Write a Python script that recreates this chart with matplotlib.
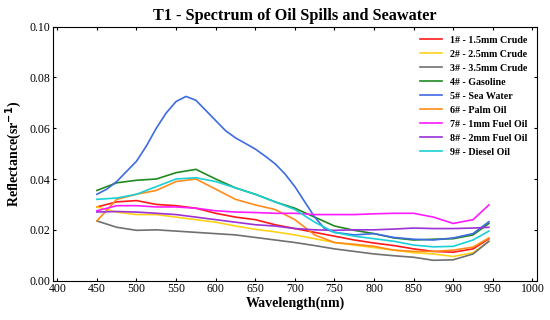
import matplotlib.pyplot as plt

# wavelength samples (nm)
wl = [450, 475, 500, 525, 550, 575, 600, 625, 650, 675, 700,
      725, 750, 775, 800, 825, 850, 875, 900, 925, 945]
# sea water read on a finer step around its peak
wl_sea = [450, 462.5, 475, 487.5, 500, 512.5, 525, 537.5, 550, 562.5, 575, 587.5, 600,
          612.5, 625, 637.5, 650, 662.5, 675, 687.5, 700, 712.5, 725, 737.5, 750,
          775, 800, 825, 850, 875, 900, 925, 945]

crude_15 = [0.029, 0.031, 0.0315, 0.030, 0.0295, 0.0285, 0.0265, 0.025, 0.024, 0.022, 0.0205,
            0.019, 0.0175, 0.016, 0.0148, 0.0138, 0.0125, 0.0115, 0.0112, 0.0125, 0.0165]
crude_25 = [0.029, 0.027, 0.026, 0.026, 0.025, 0.024, 0.023, 0.0215, 0.0202, 0.0192, 0.018,
            0.0165, 0.015, 0.014, 0.013, 0.012, 0.011, 0.0105, 0.0095, 0.011, 0.0155]
crude_35 = [0.0235, 0.021, 0.0198, 0.020, 0.0195, 0.019, 0.0185, 0.018, 0.017, 0.016, 0.015,
            0.0138, 0.0125, 0.0115, 0.0105, 0.0098, 0.0092, 0.008, 0.0082, 0.0105, 0.0155]
gasoline = [0.0355, 0.0385, 0.0395, 0.040, 0.0425, 0.0438, 0.040, 0.0365, 0.034, 0.031, 0.0285,
            0.025, 0.0215, 0.0198, 0.0185, 0.0168, 0.016, 0.0163, 0.0165, 0.018, 0.0225]
sea_water = [0.034, 0.036, 0.039, 0.043, 0.047, 0.053, 0.060, 0.066, 0.0705, 0.0725, 0.071,
             0.067, 0.063, 0.059, 0.0562, 0.054, 0.0518, 0.049, 0.046, 0.042, 0.037, 0.031,
             0.025, 0.0205, 0.019, 0.018, 0.0185, 0.017, 0.0163, 0.016, 0.0168, 0.0185, 0.0232]
palm_oil = [0.0235, 0.032, 0.034, 0.0355, 0.039, 0.040, 0.036, 0.032, 0.0298, 0.028, 0.024,
            0.018, 0.015, 0.0143, 0.0135, 0.012, 0.0115, 0.0115, 0.012, 0.0132, 0.0168]
fuel_1mm = [0.0275, 0.0295, 0.0295, 0.029, 0.029, 0.0285, 0.0275, 0.027, 0.0268, 0.0265, 0.0265,
            0.026, 0.026, 0.026, 0.0263, 0.0265, 0.0265, 0.025, 0.0225, 0.024, 0.0298]
fuel_2mm = [0.027, 0.0272, 0.027, 0.0265, 0.026, 0.025, 0.024, 0.023, 0.022, 0.0215, 0.0205,
            0.020, 0.0198, 0.020, 0.020, 0.0203, 0.0207, 0.0205, 0.0205, 0.0207, 0.021]
diesel = [0.032, 0.0325, 0.034, 0.037, 0.040, 0.0405, 0.039, 0.0365, 0.034, 0.031, 0.028,
          0.023, 0.019, 0.0175, 0.0165, 0.0155, 0.014, 0.0133, 0.0135, 0.016, 0.0195]

series = [(wl, crude_15), (wl, crude_25), (wl, crude_35), (wl, gasoline), (wl_sea, sea_water),
          (wl, palm_oil), (wl, fuel_1mm), (wl, fuel_2mm), (wl, diesel)]
labels = ['1# - 1.5mm Crude', '2# - 2.5mm Crude', '3# - 3.5mm Crude', '4# - Gasoline',
          '5# - Sea Water', '6# - Palm Oil', '7# - 1mm Fuel Oil', '8# - 2mm Fuel Oil',
          '9# - Diesel Oil']
colors = ['#ff1a1a', '#ffd21a', '#707070', '#1f8a1f', '#3d6be0', '#ff8c1a',
          '#ff1aff', '#9a32d6', '#1ad0d6']

plt.rcParams['font.family'] = 'Liberation Serif'
plt.rcParams['font.weight'] = 'bold'

fig = plt.figure(figsize=(5.5, 3.2), dpi=100)
ax = fig.add_axes([0.097, 0.123, 0.879, 0.794])

for (xs, ys), lab, c in zip(series, labels, colors):
    ax.plot(xs, ys, color=c, lw=1.2, label=lab)

ax.set_xlim(395, 1005.5)
ax.set_ylim(0, 0.1)
ax.set_xticks(range(400, 1001, 50))
ax.set_yticks([0, 0.02, 0.04, 0.06, 0.08, 0.1])
ax.set_yticklabels(['0.00', '0.02', '0.04', '0.06', '0.08', '0.10'])
ax.tick_params(direction='in', top=True, right=True, length=2.5, labelsize=8.5, pad=2)
for lbl in ax.get_xticklabels() + ax.get_yticklabels():
    lbl.set_fontweight('normal')

ax.set_title('T1 - Spectrum of Oil Spills and Seawater', fontsize=11.7, fontweight='bold', pad=5)
ax.set_xlabel('Wavelength(nm)', fontsize=10, fontweight='bold', labelpad=1)
ax.set_ylabel('Reflectance(sr$^{-1}$)', fontsize=10, fontweight='bold', labelpad=4)

ax.legend(loc='upper right', frameon=False, fontsize=7.2, handlelength=2.2,
          labelspacing=0.5, borderaxespad=0.5, borderpad=0.4)

fig.savefig('out.png', dpi=100)
